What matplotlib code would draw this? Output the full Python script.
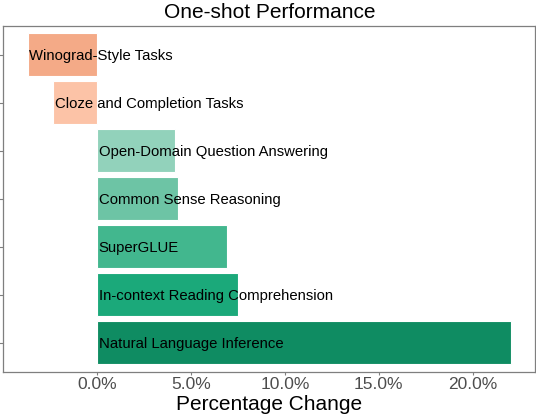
import matplotlib
matplotlib.use("Agg")
import matplotlib.pyplot as plt
from matplotlib.ticker import FuncFormatter

plt.rcParams['font.family'] = ['Liberation Sans', 'DejaVu Sans']

# data (top to bottom)
tasks = ['Winograd-Style Tasks', 'Cloze and Completion Tasks',
         'Open-Domain Question Answering', 'Common Sense Reasoning',
         'SuperGLUE', 'In-context Reading Comprehension',
         'Natural Language Inference']
changes = [-3.70, -2.34, 4.16, 4.33, 6.90, 7.50, 22.04]
colors = ['#F4AA87', '#FCC3A7', '#92D2BB', '#6DC4A5', '#42B78E', '#1BA97A', '#0F8C62']

fig = plt.figure(figsize=(5.36, 4.16), dpi=100)
ax = fig.add_axes([0.0065, 0.1065, 0.992, 0.831])

ypos = list(range(len(tasks)))
ax.barh(ypos, changes, height=0.9, color=colors, edgecolor='white', linewidth=0.8)

# labels sit at the left end of each bar
for y, name, v in zip(ypos, tasks, changes):
    ax.text(min(v, 0) + 0.08, y + 0.03, name, ha='left', va='center', fontsize=10.7, color='black')

ax.set_ylim(len(tasks) - 1 + 0.6, -0.6)
span = max(changes) - min(changes)
ax.set_xlim(min(changes) - 0.05 * span, max(changes) + 0.05 * span)

ax.set_yticks(ypos)
ax.set_yticklabels([])
ax.set_xticks([0, 5, 10, 15, 20])
ax.xaxis.set_major_formatter(FuncFormatter(lambda x, p: f'{x:.1f}%'))
ax.tick_params(axis='x', length=2, color='#7f7f7f', labelsize=12.5, labelcolor='#4d4d4d', pad=2)
ax.tick_params(axis='y', length=3, color='#7f7f7f')

for s in ax.spines.values():
    s.set_color('#7f7f7f')
    s.set_linewidth(0.9)

ax.set_xlabel('Percentage Change', fontsize=15, labelpad=2)
ax.set_title('One-shot Performance', fontsize=15, pad=6)

fig.savefig('out.png', dpi=100)
